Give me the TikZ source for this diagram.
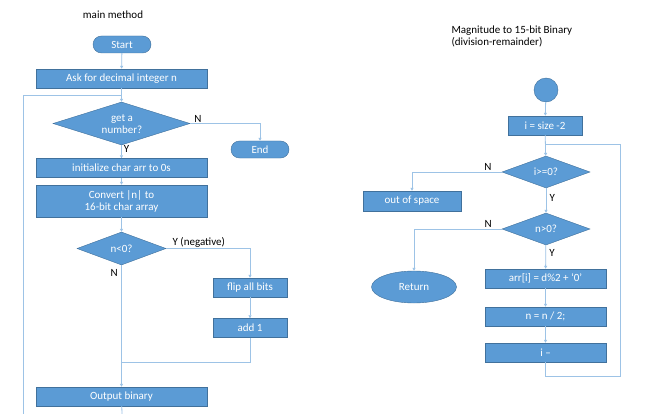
\documentclass[tikz,border=0pt]{standalone}
\usepackage{fontspec}
\setmainfont{Carlito}
\usetikzlibrary{shapes.geometric,arrows.meta}
\definecolor{fillb}{HTML}{5B9BD5}
\definecolor{edgeb}{HTML}{41719C}
\definecolor{lineb}{HTML}{9DC3E6}
\begin{document}
\begin{tikzpicture}[x=1pt,y=-1pt,
  box/.style={draw=edgeb,fill=fillb,text=white,line width=0.4pt,minimum height=19pt,inner sep=1pt,font=\fontsize{11}{12}\selectfont,align=center},
  term/.style={box,rounded corners=8.5pt,minimum height=17pt},
  dia/.style={diamond,draw=edgeb,fill=fillb,text=white,inner sep=0pt,font=\fontsize{11}{12}\selectfont,align=center},
  ln/.style={draw=lineb,line width=0.8pt},
  ar/.style={ln,-{Triangle[width=3pt,length=3pt]}},
  lbl/.style={font=\fontsize{11}{12}\selectfont}]
\useasboundingbox (0,0) rectangle (652,414);
\fill[white] (0,0) rectangle (652,414);
% left
\node[lbl] at (113,15) {main method};
\node[term,minimum width=58pt] (start) at (122,44.5) {Start};
\node[box,minimum width=171pt] (ask) at (121.5,78.5) {Ask for decimal integer n};
\node[dia,minimum width=137pt,minimum height=43pt] (get) at (121.5,123.5) {};
\node[text=white,font=\fontsize{11}{12}\selectfont,align=center] at (122,124) {get a\\number?};
\node[term,minimum width=58pt] (end) at (260,149.5) {End};
\node[box,minimum width=171pt] (init) at (121.5,168) {initialize char arr to 0s};
\node[box,minimum width=171pt,minimum height=32pt] (conv) at (121.5,201) {Convert |n| to\\16-bit char array};
\node[dia,minimum width=89pt,minimum height=33pt] (neg) at (121.5,248.5) {n<0?};
\node[box,minimum width=74pt] (flip) at (250,287.5) {flip all bits};
\node[box,minimum width=74pt] (add) at (250,328) {add 1};
\node[box,minimum width=171pt] (out) at (121.5,396.5) {Output binary};
\coordinate (loopl) at (23,95);
\coordinate (bot) at (23,414);
\coordinate (outb) at (122,414);
\draw[ar] (start) -- (ask);
\draw[ar] (ask) -- (get);
\draw[ln] (bot) -- (loopl) -- (122,95);
\draw[ar] (get.east) -| (end) node[pos=0.02,above right,black,lbl,inner sep=1pt] {N};
\draw[ar] (get) -- (init) node[pos=0.3,right,black,lbl,inner sep=2pt] {Y};
\draw[ar] (init) -- (conv);
\draw[ar] (conv) -- (neg);
\draw[ar] (neg.east) -| (flip) node[pos=0.03,above right,black,lbl,inner sep=1pt] {Y (negative)};
\draw[ar] (flip) -- (add);
\draw[ln] (add) |- (122,362);
\draw[ar] (neg) -- (out) node[pos=0.06,left,black,lbl] {N};
\draw[ln] (out) -- (outb);
% right
\node[lbl,align=left,anchor=west] at (448,36.5) {Magnitude to 15-bit Binary\\(division-remainder)};
\node[circle,draw=edgeb,fill=fillb,minimum size=24pt,inner sep=0pt] (c) at (546,90) {};
\node[box,minimum width=74pt] (is) at (545,125.5) {i = size -2};
\node[dia,minimum width=88pt,minimum height=32pt] (ige) at (546,172) {i>=0?};
\node[box,minimum width=98pt,minimum height=20pt] (oos) at (412,201) {out of space};
\node[dia,minimum width=88pt,minimum height=32pt] (ngt) at (546,229) {n>0?};
\node[ellipse,draw=edgeb,fill=fillb,text=white,minimum width=85pt,minimum height=32pt,inner sep=0pt,font=\fontsize{11}{12}\selectfont] (ret) at (414,287) {Return};
\node[box,minimum width=121pt] (arr) at (545.5,278.5) {arr[i] = d\%2 + ‘0’};
\node[box,minimum width=121pt] (half) at (545.5,316.5) {n = n / 2;};
\node[box,minimum width=121pt] (dec) at (545.5,352.5) {i --};
\coordinate (rt) at (620,144);
\coordinate (rb) at (620,376);
\draw[ar] (c) -- (is);
\draw[ar] (is) -- (ige);
\draw[ar] (ige.west) -| (oos) node[pos=0.05,above left,black,lbl,inner sep=1pt] {N};
\draw[ar] (ige) -- (ngt) node[pos=0.4,right,black,lbl] {Y};
\draw[ar] (ngt.west) -| (ret) node[pos=0.05,above left,black,lbl,inner sep=1pt] {N};
\draw[ar] (ngt) -- (arr) node[pos=0.35,right,black,lbl] {Y};
\draw[ar] (arr) -- (half);
\draw[ar] (half) -- (dec);
\draw[ln] (dec) |- (rb) -- (rt) -- (546,144);
\end{tikzpicture}
\end{document}
